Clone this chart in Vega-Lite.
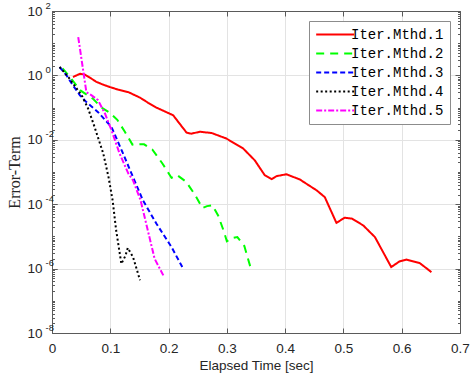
{
  "$schema": "https://vega.github.io/schema/vega-lite/v6.json",
  "width": 408,
  "height": 322,
  "autosize": "none",
  "padding": {"left": 52, "top": 11, "right": 14, "bottom": 43},
  "config": {
    "view": {"stroke": null},
    "axis": {
      "labelFont": "Liberation Sans",
      "labelFontSize": 13.5,
      "labelColor": "#262626",
      "titleFont": "Liberation Sans",
      "titleFontSize": 13.5,
      "titleFontWeight": "normal",
      "titleColor": "#262626",
      "domainColor": "#5a5a5a",
      "tickColor": "#5a5a5a",
      "gridColor": "#e3e3e3",
      "gridOpacity": 1
    }
  },
  "data": {
    "values": [
      {"series": "Iter.Mthd.1", "t": 0.036, "err": 0.891},
      {"series": "Iter.Mthd.1", "t": 0.048, "err": 1.12},
      {"series": "Iter.Mthd.1", "t": 0.056, "err": 1.07},
      {"series": "Iter.Mthd.1", "t": 0.066, "err": 0.832},
      {"series": "Iter.Mthd.1", "t": 0.076, "err": 0.631},
      {"series": "Iter.Mthd.1", "t": 0.088, "err": 0.513},
      {"series": "Iter.Mthd.1", "t": 0.099, "err": 0.437},
      {"series": "Iter.Mthd.1", "t": 0.113, "err": 0.363},
      {"series": "Iter.Mthd.1", "t": 0.131, "err": 0.302},
      {"series": "Iter.Mthd.1", "t": 0.151, "err": 0.204},
      {"series": "Iter.Mthd.1", "t": 0.165, "err": 0.141},
      {"series": "Iter.Mthd.1", "t": 0.179, "err": 0.1},
      {"series": "Iter.Mthd.1", "t": 0.195, "err": 0.0741},
      {"series": "Iter.Mthd.1", "t": 0.208, "err": 0.0575},
      {"series": "Iter.Mthd.1", "t": 0.219, "err": 0.0316},
      {"series": "Iter.Mthd.1", "t": 0.231, "err": 0.0166},
      {"series": "Iter.Mthd.1", "t": 0.239, "err": 0.0155},
      {"series": "Iter.Mthd.1", "t": 0.254, "err": 0.0178},
      {"series": "Iter.Mthd.1", "t": 0.274, "err": 0.0162},
      {"series": "Iter.Mthd.1", "t": 0.299, "err": 0.011},
      {"series": "Iter.Mthd.1", "t": 0.328, "err": 0.00537},
      {"series": "Iter.Mthd.1", "t": 0.348, "err": 0.00229},
      {"series": "Iter.Mthd.1", "t": 0.365, "err": 0.000794},
      {"series": "Iter.Mthd.1", "t": 0.377, "err": 0.000603},
      {"series": "Iter.Mthd.1", "t": 0.385, "err": 0.000741},
      {"series": "Iter.Mthd.1", "t": 0.402, "err": 0.000851},
      {"series": "Iter.Mthd.1", "t": 0.425, "err": 0.000589},
      {"series": "Iter.Mthd.1", "t": 0.454, "err": 0.000269},
      {"series": "Iter.Mthd.1", "t": 0.468, "err": 0.000166},
      {"series": "Iter.Mthd.1", "t": 0.488, "err": 0.0000263},
      {"series": "Iter.Mthd.1", "t": 0.502, "err": 0.000038},
      {"series": "Iter.Mthd.1", "t": 0.515, "err": 0.0000355},
      {"series": "Iter.Mthd.1", "t": 0.534, "err": 0.0000219},
      {"series": "Iter.Mthd.1", "t": 0.554, "err": 0.00000955},
      {"series": "Iter.Mthd.1", "t": 0.582, "err": 0.00000112},
      {"series": "Iter.Mthd.1", "t": 0.596, "err": 0.00000166},
      {"series": "Iter.Mthd.1", "t": 0.608, "err": 0.00000191},
      {"series": "Iter.Mthd.1", "t": 0.631, "err": 0.00000148},
      {"series": "Iter.Mthd.1", "t": 0.651, "err": 0.000000776},

      {"series": "Iter.Mthd.2", "t": 0.018, "err": 1.66},
      {"series": "Iter.Mthd.2", "t": 0.033, "err": 0.794},
      {"series": "Iter.Mthd.2", "t": 0.048, "err": 0.347},
      {"series": "Iter.Mthd.2", "t": 0.07, "err": 0.191},
      {"series": "Iter.Mthd.2", "t": 0.085, "err": 0.1},
      {"series": "Iter.Mthd.2", "t": 0.1, "err": 0.0676},
      {"series": "Iter.Mthd.2", "t": 0.112, "err": 0.0417},
      {"series": "Iter.Mthd.2", "t": 0.125, "err": 0.0178},
      {"series": "Iter.Mthd.2", "t": 0.138, "err": 0.00708},
      {"series": "Iter.Mthd.2", "t": 0.15, "err": 0.00724},
      {"series": "Iter.Mthd.2", "t": 0.158, "err": 0.00724},
      {"series": "Iter.Mthd.2", "t": 0.172, "err": 0.00501},
      {"series": "Iter.Mthd.2", "t": 0.19, "err": 0.00178},
      {"series": "Iter.Mthd.2", "t": 0.205, "err": 0.000661},
      {"series": "Iter.Mthd.2", "t": 0.215, "err": 0.000794},
      {"series": "Iter.Mthd.2", "t": 0.23, "err": 0.000501},
      {"series": "Iter.Mthd.2", "t": 0.245, "err": 0.0002},
      {"series": "Iter.Mthd.2", "t": 0.258, "err": 0.0000759},
      {"series": "Iter.Mthd.2", "t": 0.266, "err": 0.0000871},
      {"series": "Iter.Mthd.2", "t": 0.275, "err": 0.0000933},
      {"series": "Iter.Mthd.2", "t": 0.285, "err": 0.0000447},
      {"series": "Iter.Mthd.2", "t": 0.295, "err": 0.0000141},
      {"series": "Iter.Mthd.2", "t": 0.3, "err": 0.00000708},
      {"series": "Iter.Mthd.2", "t": 0.31, "err": 0.00000891},
      {"series": "Iter.Mthd.2", "t": 0.318, "err": 0.00000955},
      {"series": "Iter.Mthd.2", "t": 0.33, "err": 0.00000501},
      {"series": "Iter.Mthd.2", "t": 0.342, "err": 0.000000891},

      {"series": "Iter.Mthd.3", "t": 0.013, "err": 1.82},
      {"series": "Iter.Mthd.3", "t": 0.025, "err": 1.0},
      {"series": "Iter.Mthd.3", "t": 0.036, "err": 0.49},
      {"series": "Iter.Mthd.3", "t": 0.048, "err": 0.24},
      {"series": "Iter.Mthd.3", "t": 0.059, "err": 0.148},
      {"series": "Iter.Mthd.3", "t": 0.079, "err": 0.0724},
      {"series": "Iter.Mthd.3", "t": 0.102, "err": 0.0251},
      {"series": "Iter.Mthd.3", "t": 0.122, "err": 0.00372},
      {"series": "Iter.Mthd.3", "t": 0.139, "err": 0.000692},
      {"series": "Iter.Mthd.3", "t": 0.156, "err": 0.000132},
      {"series": "Iter.Mthd.3", "t": 0.179, "err": 0.0000251},
      {"series": "Iter.Mthd.3", "t": 0.205, "err": 0.00000468},
      {"series": "Iter.Mthd.3", "t": 0.225, "err": 0.000001},

      {"series": "Iter.Mthd.4", "t": 0.013, "err": 1.82},
      {"series": "Iter.Mthd.4", "t": 0.028, "err": 0.891},
      {"series": "Iter.Mthd.4", "t": 0.036, "err": 0.562},
      {"series": "Iter.Mthd.4", "t": 0.051, "err": 0.24},
      {"series": "Iter.Mthd.4", "t": 0.062, "err": 0.0933},
      {"series": "Iter.Mthd.4", "t": 0.073, "err": 0.0251},
      {"series": "Iter.Mthd.4", "t": 0.088, "err": 0.00372},
      {"series": "Iter.Mthd.4", "t": 0.097, "err": 0.000692},
      {"series": "Iter.Mthd.4", "t": 0.104, "err": 0.000132},
      {"series": "Iter.Mthd.4", "t": 0.11, "err": 0.0000158},
      {"series": "Iter.Mthd.4", "t": 0.119, "err": 0.00000141},
      {"series": "Iter.Mthd.4", "t": 0.126, "err": 0.00000251},
      {"series": "Iter.Mthd.4", "t": 0.13, "err": 0.00000437},
      {"series": "Iter.Mthd.4", "t": 0.139, "err": 0.00000229},
      {"series": "Iter.Mthd.4", "t": 0.151, "err": 0.000000437},

      {"series": "Iter.Mthd.5", "t": 0.045, "err": 15.5},
      {"series": "Iter.Mthd.5", "t": 0.059, "err": 0.302},
      {"series": "Iter.Mthd.5", "t": 0.068, "err": 0.24},
      {"series": "Iter.Mthd.5", "t": 0.079, "err": 0.17},
      {"series": "Iter.Mthd.5", "t": 0.091, "err": 0.0646},
      {"series": "Iter.Mthd.5", "t": 0.102, "err": 0.02},
      {"series": "Iter.Mthd.5", "t": 0.116, "err": 0.00372},
      {"series": "Iter.Mthd.5", "t": 0.131, "err": 0.000891},
      {"series": "Iter.Mthd.5", "t": 0.139, "err": 0.00055},
      {"series": "Iter.Mthd.5", "t": 0.152, "err": 0.000132},
      {"series": "Iter.Mthd.5", "t": 0.163, "err": 0.0000195},
      {"series": "Iter.Mthd.5", "t": 0.176, "err": 0.00000204},
      {"series": "Iter.Mthd.5", "t": 0.191, "err": 0.000000617}
    ]
  },
  "layer": [
    {
      "mark": {"type": "line", "strokeWidth": 2, "clip": true},
      "encoding": {
        "x": {
          "field": "t", "type": "quantitative",
          "scale": {"domain": [0, 0.7], "nice": false, "zero": false},
          "axis": {
            "orient": "bottom",
            "values": [0, 0.1, 0.2, 0.3, 0.4, 0.5, 0.6, 0.7],
            "format": ".1~f",
            "labelFlush": false,
            "title": "Elapsed Time [sec]",
            "grid": true,
            "tickSize": -5,
            "labelPadding": 13,
            "titlePadding": 4
          }
        },
        "y": {
          "field": "err", "type": "quantitative",
          "scale": {"type": "log", "domain": [0.00000001, 100], "nice": false},
          "axis": {
            "orient": "left",
            "values": [0.00000001, 0.000001, 0.0001, 0.01, 1, 100],
            "labelExpr": "'10'",
            "labelFlush": false,
            "title": "Error-Term",
            "titleFont": "Liberation Serif",
            "titleFontSize": 16,
            "grid": true,
            "tickSize": -5,
            "labelPadding": 15,
            "titlePadding": 4
          }
        },
        "color": {
          "field": "series", "type": "nominal",
          "scale": {
            "domain": ["Iter.Mthd.1", "Iter.Mthd.2", "Iter.Mthd.3", "Iter.Mthd.4", "Iter.Mthd.5"],
            "range": ["#ff0000", "#00ff00", "#0000ff", "#000000", "#ff00ff"]
          },
          "legend": {
            "orient": "none", "legendX": 257, "legendY": 10,
            "title": null,
            "symbolType": "M-1,0H5", "symbolSize": 160, "symbolStrokeWidth": 2,
            "labelFont": "Liberation Mono", "labelFontSize": 14, "labelColor": "#000000",
            "labelOffset": 21,
            "strokeColor": "#8c8c8c", "fillColor": "#ffffff",
            "padding": 6, "rowPadding": 4
          }
        },
        "strokeDash": {
          "field": "series", "type": "nominal",
          "scale": {
            "domain": ["Iter.Mthd.1", "Iter.Mthd.2", "Iter.Mthd.3", "Iter.Mthd.4", "Iter.Mthd.5"],
            "range": [[1, 0], [8, 6], [5, 3], [2, 2.5], [6, 2, 2, 2]]
          },
          "legend": {
            "orient": "none", "legendX": 257, "legendY": 10,
            "title": null,
            "symbolType": "M-1,0H5", "symbolSize": 160, "symbolStrokeWidth": 2,
            "labelFont": "Liberation Mono", "labelFontSize": 14, "labelColor": "#000000",
            "labelOffset": 21,
            "strokeColor": "#8c8c8c", "fillColor": "#ffffff",
            "padding": 6, "rowPadding": 4
          }
        }
      }
    },
    {
      "mark": {"type": "point", "opacity": 0},
      "encoding": {
        "x": {
          "field": "t", "type": "quantitative",
          "axis": {
            "orient": "top",
            "values": [0, 0.1, 0.2, 0.3, 0.4, 0.5, 0.6, 0.7],
            "labels": false, "title": null, "grid": false,
            "tickSize": -5
          }
        },
        "y": {
          "field": "err", "type": "quantitative",
          "axis": {
            "orient": "right",
            "values": [0.00000001, 0.000001, 0.0001, 0.01, 1, 100, 0.00000002, 0.00000003, 0.00000004, 0.00000005, 0.00000006, 0.00000007, 0.00000008, 0.00000009, 0.0000001, 0.0000002, 0.0000003, 0.0000004, 0.0000005, 0.0000006, 0.0000007, 0.0000008, 0.0000009, 0.000002, 0.000003, 0.000004, 0.000005, 0.000006, 0.000007, 0.000008, 0.000009, 0.00001, 0.00002, 0.00003, 0.00004, 0.00005, 0.00006, 0.00007, 0.00008, 0.00009, 0.0002, 0.0003, 0.0004, 0.0005, 0.0006, 0.0007, 0.0008, 0.0009, 0.001, 0.002, 0.003, 0.004, 0.005, 0.006, 0.007, 0.008, 0.009, 0.02, 0.03, 0.04, 0.05, 0.06, 0.07, 0.08, 0.09, 0.1, 0.2, 0.3, 0.4, 0.5, 0.6, 0.7, 0.8, 0.9, 2, 3, 4, 5, 6, 7, 8, 9, 10, 20, 30, 40, 50, 60, 70, 80, 90],
            "labels": false, "title": null, "grid": false,
            "tickSize": {"condition": {"test": "indexof([0.00000001, 0.000001, 0.0001, 0.01, 1, 100], datum.value) >= 0", "value": -5}, "value": -2.5}
          }
        }
      }
    },
    {
      "mark": {"type": "point", "opacity": 0},
      "encoding": {
        "x": {"field": "t", "type": "quantitative", "axis": null},
        "y": {
          "field": "err", "type": "quantitative",
          "axis": {
            "orient": "left",
            "values": [0.00000001, 0.000001, 0.0001, 0.01, 1, 100, 0.00000002, 0.00000003, 0.00000004, 0.00000005, 0.00000006, 0.00000007, 0.00000008, 0.00000009, 0.0000001, 0.0000002, 0.0000003, 0.0000004, 0.0000005, 0.0000006, 0.0000007, 0.0000008, 0.0000009, 0.000002, 0.000003, 0.000004, 0.000005, 0.000006, 0.000007, 0.000008, 0.000009, 0.00001, 0.00002, 0.00003, 0.00004, 0.00005, 0.00006, 0.00007, 0.00008, 0.00009, 0.0002, 0.0003, 0.0004, 0.0005, 0.0006, 0.0007, 0.0008, 0.0009, 0.001, 0.002, 0.003, 0.004, 0.005, 0.006, 0.007, 0.008, 0.009, 0.02, 0.03, 0.04, 0.05, 0.06, 0.07, 0.08, 0.09, 0.1, 0.2, 0.3, 0.4, 0.5, 0.6, 0.7, 0.8, 0.9, 2, 3, 4, 5, 6, 7, 8, 9, 10, 20, 30, 40, 50, 60, 70, 80, 90],
            "labelExpr": "datum.value == 100 ? '2' : datum.value == 1 ? '0' : datum.value == 0.01 ? '-2' : datum.value == 0.0001 ? '-4' : datum.value == 0.000001 ? '-6' : datum.value == 0.00000001 ? '-8' : ''",
            "labelAlign": "left",
            "labelFontSize": 9.5,
            "labelOffset": -6,
            "labelPadding": 12,
            "labelFlush": false,
            "labelOverlap": false,
            "title": null, "grid": false, "domain": false,
            "tickSize": {"condition": {"test": "indexof([0.00000001, 0.000001, 0.0001, 0.01, 1, 100], datum.value) >= 0", "value": -5}, "value": -2.5}
          }
        }
      }
    }
  ],
  "resolve": {"axis": {"x": "independent", "y": "independent"}}
}
